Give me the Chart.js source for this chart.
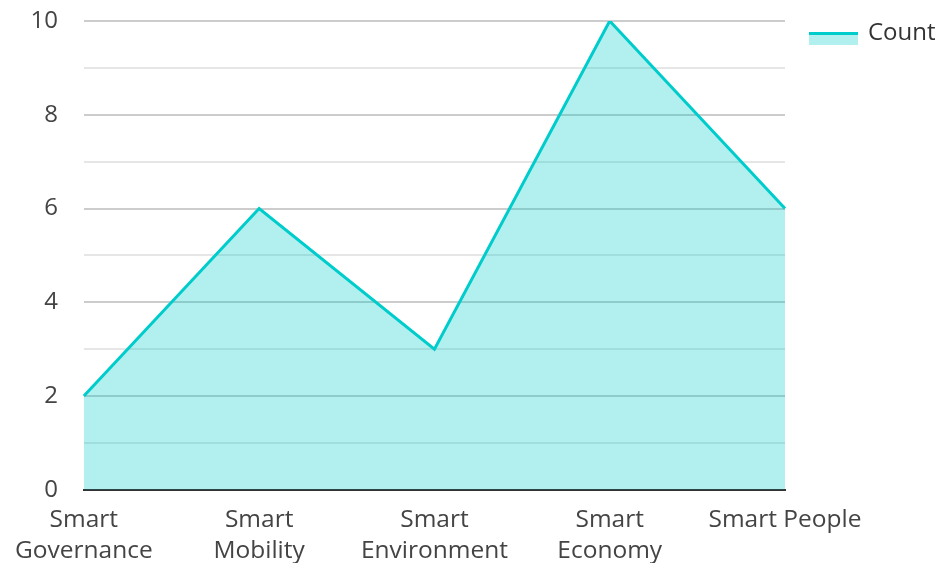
<!DOCTYPE html>
<html>
<head>
<meta charset="utf-8">
<script src="https://cdn.jsdelivr.net/npm/chart.js@4.4.1/dist/chart.umd.min.js"></script>
<style>
html,body{margin:0;padding:0;background:#fff;}
#wrap{width:942px;height:563px;}
</style>
</head>
<body>
<div id="wrap"><canvas id="c"></canvas></div>
<script>
const categories = [["Smart","Governance"],["Smart","Mobility"],["Smart","Environment"],["Smart","Economy"],"Smart People"];
const counts = [2, 6, 3, 10, 6];
const seriesName = "Count";

const lineColor = "#00cccc";
const fillColor = "rgba(0,204,204,0.3)";
const FONT = "'Open Sans'";

// simple legend at the top right: filled box with a thick line on top, then the label
const sideLegend = {
  id:"sideLegend",
  afterDraw(chart){
    const c = chart.ctx, a = chart.chartArea;
    const x = a.right + 24, y = a.top + 11;
    c.save();
    c.fillStyle = fillColor;
    c.fillRect(x, y, 49, 13);
    c.fillStyle = lineColor;
    c.fillRect(x, y, 49, 3);
    c.fillStyle = "#333";
    c.font = "24px " + FONT;
    c.textBaseline = "middle";
    c.fillText(seriesName, x + 59, y + 1);
    c.restore();
  }
};

new Chart(document.getElementById("c"), {
  type:"line",
  data:{labels:categories, datasets:[{
    label:seriesName, data:counts, borderColor:lineColor, backgroundColor:fillColor,
    borderWidth:3, fill:"origin", pointRadius:0, tension:0
  }]},
  options:{
    responsive:true, maintainAspectRatio:false, animation:false,
    layout:{padding:{top:0, right:157, left:-2, bottom:-18}},
    plugins:{legend:{display:false}, tooltip:{enabled:false}},
    scales:{
      x:{offset:false,
        grid:{display:false, drawTicks:false},
        border:{display:true, color:"#333", width:2},
        ticks:{color:"#444", padding:15, maxRotation:0, autoSkip:false,
          font:{family:FONT, size:24.5, lineHeight:1.25}}},
      y:{min:0, max:10,
        afterFit(scale){ scale.paddingTop = 21; },
        grid:{drawTicks:false, color:(ctx)=> ctx.tick.value % 2 === 0 ? "#cccccc" : "#e6e6e6", lineWidth:2},
        border:{display:false},
        ticks:{stepSize:1, padding:26, color:"#444",
          font:{family:FONT, size:24},
          callback:(v)=> v % 2 === 0 ? v : ""}}
    }
  },
  plugins:[sideLegend]
});
</script>
</body>
</html>
